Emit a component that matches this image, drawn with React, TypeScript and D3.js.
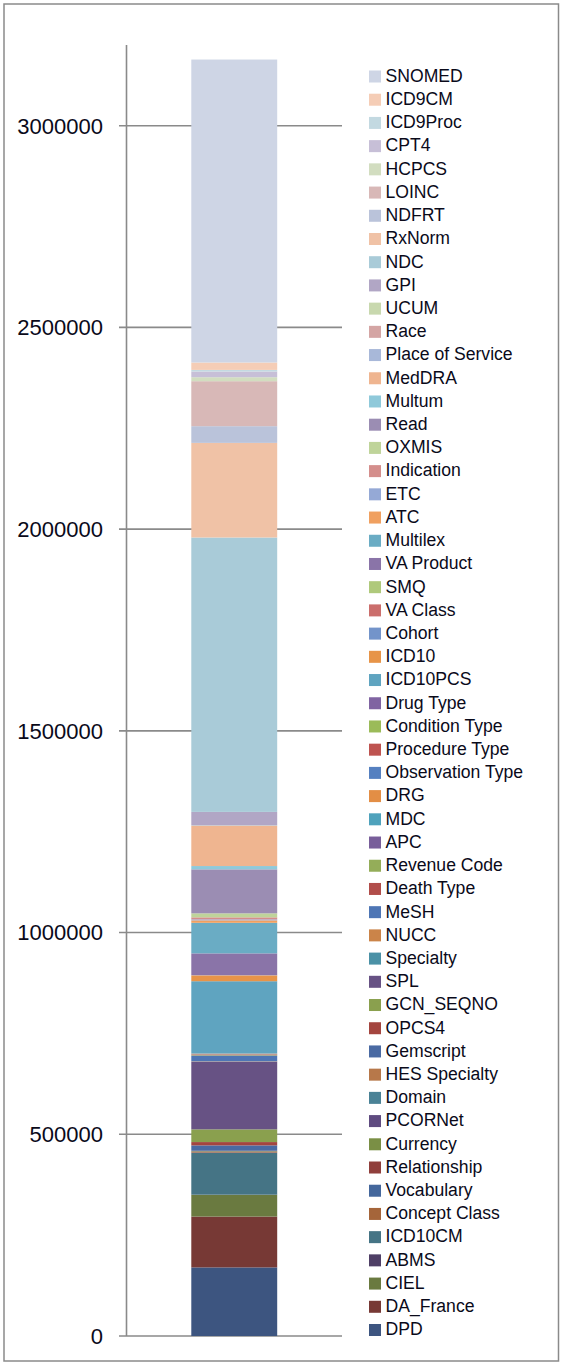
import React, { useRef, useEffect } from 'react';
import { select, scaleLinear, scaleBand, stack, range } from 'd3';

// stacking order, bottom first (legend is shown in reverse)
const vocabularies = [
    'DPD', 'DA_France', 'CIEL', 'ABMS', 'ICD10CM', 'Concept Class', 'Vocabulary', 'Relationship',
    'Currency', 'PCORNet', 'Domain', 'HES Specialty', 'Gemscript', 'OPCS4', 'GCN_SEQNO', 'SPL',
    'Specialty', 'NUCC', 'MeSH', 'Death Type', 'Revenue Code', 'APC', 'MDC', 'DRG',
    'Observation Type', 'Procedure Type', 'Condition Type', 'Drug Type', 'ICD10PCS', 'ICD10',
    'Cohort', 'VA Class', 'SMQ', 'VA Product', 'Multilex', 'ATC', 'ETC', 'Indication', 'OXMIS',
    'Read', 'Multum', 'MedDRA', 'Place of Service', 'Race', 'UCUM', 'GPI', 'NDC', 'RxNorm',
    'NDFRT', 'LOINC', 'HCPCS', 'CPT4', 'ICD9Proc', 'ICD9CM', 'SNOMED',
];

// concept counts, same order as above
const conceptCounts = [
    170000, 126000, 54000, 300, 103500, 1500, 300, 1500,
    1200, 300, 200, 300, 13400, 8200, 31500, 167600,
    100, 900, 13500, 100, 1500, 2000, 100, 1500,
    200, 200, 200, 100, 179200, 14100,
    100, 500, 300, 54000, 75800, 6000, 2500, 5000, 10000,
    109000, 8200, 99500, 100, 50, 1000, 33500, 680200, 234500,
    41400, 111500, 9900, 14100, 4000, 18300, 751000,
];

const colors = [
    '#3d5580', '#773935', '#6a7a40', '#4f3f66', '#457485', '#a5653a', '#44679c', '#903f3c',
    '#7a8f45', '#5f4b80', '#4a8296', '#b7784a', '#4a6aa3', '#a4453f', '#8aa04e', '#675284',
    '#4b91a6', '#cb8449', '#4e76b5', '#b14d4a', '#94ad59', '#785e9a', '#4fa2bc', '#e38e45',
    '#5580c0', '#be5350', '#9bbb59', '#8064a2', '#5fa4c0', '#e79448',
    '#7394ca', '#cb6e6c', '#afc97b', '#8a74a8', '#6aacc4', '#f0a060', '#95a9d6', '#d48e8c', '#bfd49a',
    '#9b8db3', '#8fc9da', '#efb590', '#a8b8d9', '#d4a5a4', '#c8d8ae', '#b1a6c5', '#a9cbd8', '#f0c2a6',
    '#bac3da', '#d8b8b7', '#d2ddc0', '#c7bfd7', '#c3d9e1', '#f5cdb6', '#ced5e5',
];

const yTicks = [0, 500000, 1000000, 1500000, 2000000, 2500000, 3000000];
const yMax = 3200000;

const W = 564;
const H = 1366;

export default function App() {
    const svgRef: { current: SVGSVGElement | null } = useRef(null);

    useEffect(() => {
        const svg = select(svgRef.current as any);
        svg.selectAll('*').remove();

        const left = 126.5;
        const right = 342;
        const yScale = scaleLinear().domain([0, yMax]).range([1336, 45]);
        const xScale = scaleBand().domain(['all']).range([left, right]).padding(0.43);

        // frame
        svg.append('rect')
            .attr('x', 4).attr('y', 4).attr('width', W - 9.5).attr('height', H - 9)
            .attr('fill', '#fff').attr('stroke', '#8a8a8a').attr('stroke-width', 1.5);

        // grid lines + ticks
        svg.append('g')
            .selectAll('line')
            .data(yTicks)
            .join('line')
            .attr('x1', left - 7.5)
            .attr('x2', right)
            .attr('y1', (d) => yScale(d))
            .attr('y2', (d) => yScale(d))
            .attr('stroke', '#8a8a8a')
            .attr('stroke-width', 1.6);

        svg.append('g')
            .selectAll('text')
            .data(yTicks)
            .join('text')
            .attr('x', 103)
            .attr('y', (d) => yScale(d))
            .attr('dy', '0.36em')
            .attr('text-anchor', 'end')
            .attr('font-family', "'Liberation Sans', Arial, sans-serif")
            .attr('font-size', 22)
            .attr('fill', '#0a0a1a')
            .text((d) => String(d));

        // stacked bar
        const row: any = { cat: 'all' };
        vocabularies.forEach((v, i) => (row[v] = conceptCounts[i]));
        const series = stack().keys(vocabularies)([row]);

        svg.append('g')
            .selectAll('rect')
            .data(series)
            .join('rect')
            .attr('x', xScale('all') as number)
            .attr('width', xScale.bandwidth())
            .attr('y', (s: any) => yScale(s[0][1]))
            .attr('height', (s: any) => yScale(s[0][0]) - yScale(s[0][1]))
            .attr('fill', (s: any, i) => colors[i]);

        // value axis line on top
        svg.append('line')
            .attr('x1', left).attr('x2', left)
            .attr('y1', yScale(yMax)).attr('y2', yScale(0))
            .attr('stroke', '#8a8a8a').attr('stroke-width', 1.6);

        // legend, top entry = last series
        const legendOrder = range(vocabularies.length).reverse();
        const legendY = scaleLinear().domain([0, vocabularies.length - 1]).range([75.5, 1329]);
        const legend = svg.append('g')
            .selectAll('g')
            .data(legendOrder)
            .join('g')
            .attr('transform', (d, i) => `translate(369, ${legendY(i)})`);

        legend.append('rect')
            .attr('x', 0).attr('y', -5).attr('width', 12).attr('height', 12)
            .attr('fill', (d) => colors[d]);

        legend.append('text')
            .attr('x', 16.5)
            .attr('y', 0)
            .attr('dy', '0.36em')
            .attr('font-family', "'Liberation Sans', Arial, sans-serif")
            .attr('font-size', 17.6)
            .attr('fill', '#0a0a1a')
            .text((d) => vocabularies[d]);
    }, []);

    return (
        <svg
            ref={svgRef}
            width={W}
            height={H}
            style={{ position: 'absolute', left: 0, top: 0, background: '#fff' }}
        />
    );
}
